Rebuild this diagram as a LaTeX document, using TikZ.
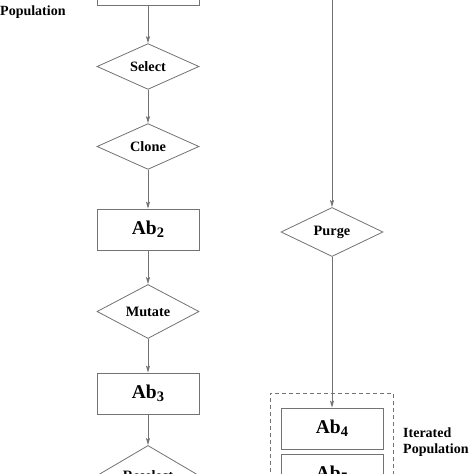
\documentclass[tikz,border=0pt]{standalone}
\usepackage{fontspec}
\setmainfont{Liberation Serif}
\usetikzlibrary{shapes.geometric,arrows.meta}
\newcommand{\absub}[1]{Ab\raisebox{-0.35ex}{\fontsize{14.5}{14.5}\selectfont #1}}
\begin{document}
\begin{tikzpicture}[x=1pt,y=-1pt,
  line/.style={draw=black!55,line width=0.8pt},
  arr/.style={line,-{Stealth[length=7pt,width=4pt,inset=1.5pt]}},
  boxnode/.style={line,rectangle,minimum width=102pt,minimum height=41pt,inner sep=0pt,
     font=\fontsize{19.5}{19.5}\selectfont\bfseries},
  dia/.style={line,diamond,minimum width=102pt,minimum height=41pt,inner sep=0pt,
     font=\fontsize{14.3}{14.3}\selectfont\bfseries},
  lbl/.style={font=\fontsize{14}{16}\selectfont\bfseries,inner sep=0pt,align=left}]
\useasboundingbox (0,0) rectangle (474,474);
\clip (0,0) rectangle (474,474);
\fill[white] (0,0) rectangle (474,474);
% left column
\node[boxnode] (ab1) at (148,-15.5) {};
\node[dia] (sel) at (148,66.5) {Select};
\node[dia] (clo) at (148,146.5) {Clone};
\node[boxnode] (ab2) at (148,229.5) {\absub{2}};
\node[dia] (mut) at (148,311.5) {Mutate};
\node[boxnode] (ab3) at (148,393.5) {\absub{3}};
\node[dia] (res) at (148,475.5) {Reselect};
\draw[arr] (ab1) -- (sel);
\draw[arr] (sel) -- (clo);
\draw[arr] (clo) -- (ab2);
\draw[arr] (ab2) -- (mut);
\draw[arr] (mut) -- (ab3);
\draw[arr] (ab3) -- (res);
% right column
\coordinate (top) at (332,-10);
\node[dia] (pur) at (332,232) {Purge};
\node[boxnode] (ab4) at (332,428.5) {\absub{4}};
\node[boxnode] (ab5) at (332,474.5) {\absub{5}};
\draw[arr] (top) -- (pur);
\draw[arr] (pur) -- (ab4);
\node[line,dashed,dash pattern=on 4pt off 3pt,rectangle,minimum width=123pt,minimum height=120pt,inner sep=0pt] (grp) at (331.5,453) {};
% labels
\node[lbl,anchor=west] (ip) at (403,442) {Iterated\\Population};
\node[lbl,anchor=west] (pop) at (0,12) {Population};
\end{tikzpicture}
\end{document}
